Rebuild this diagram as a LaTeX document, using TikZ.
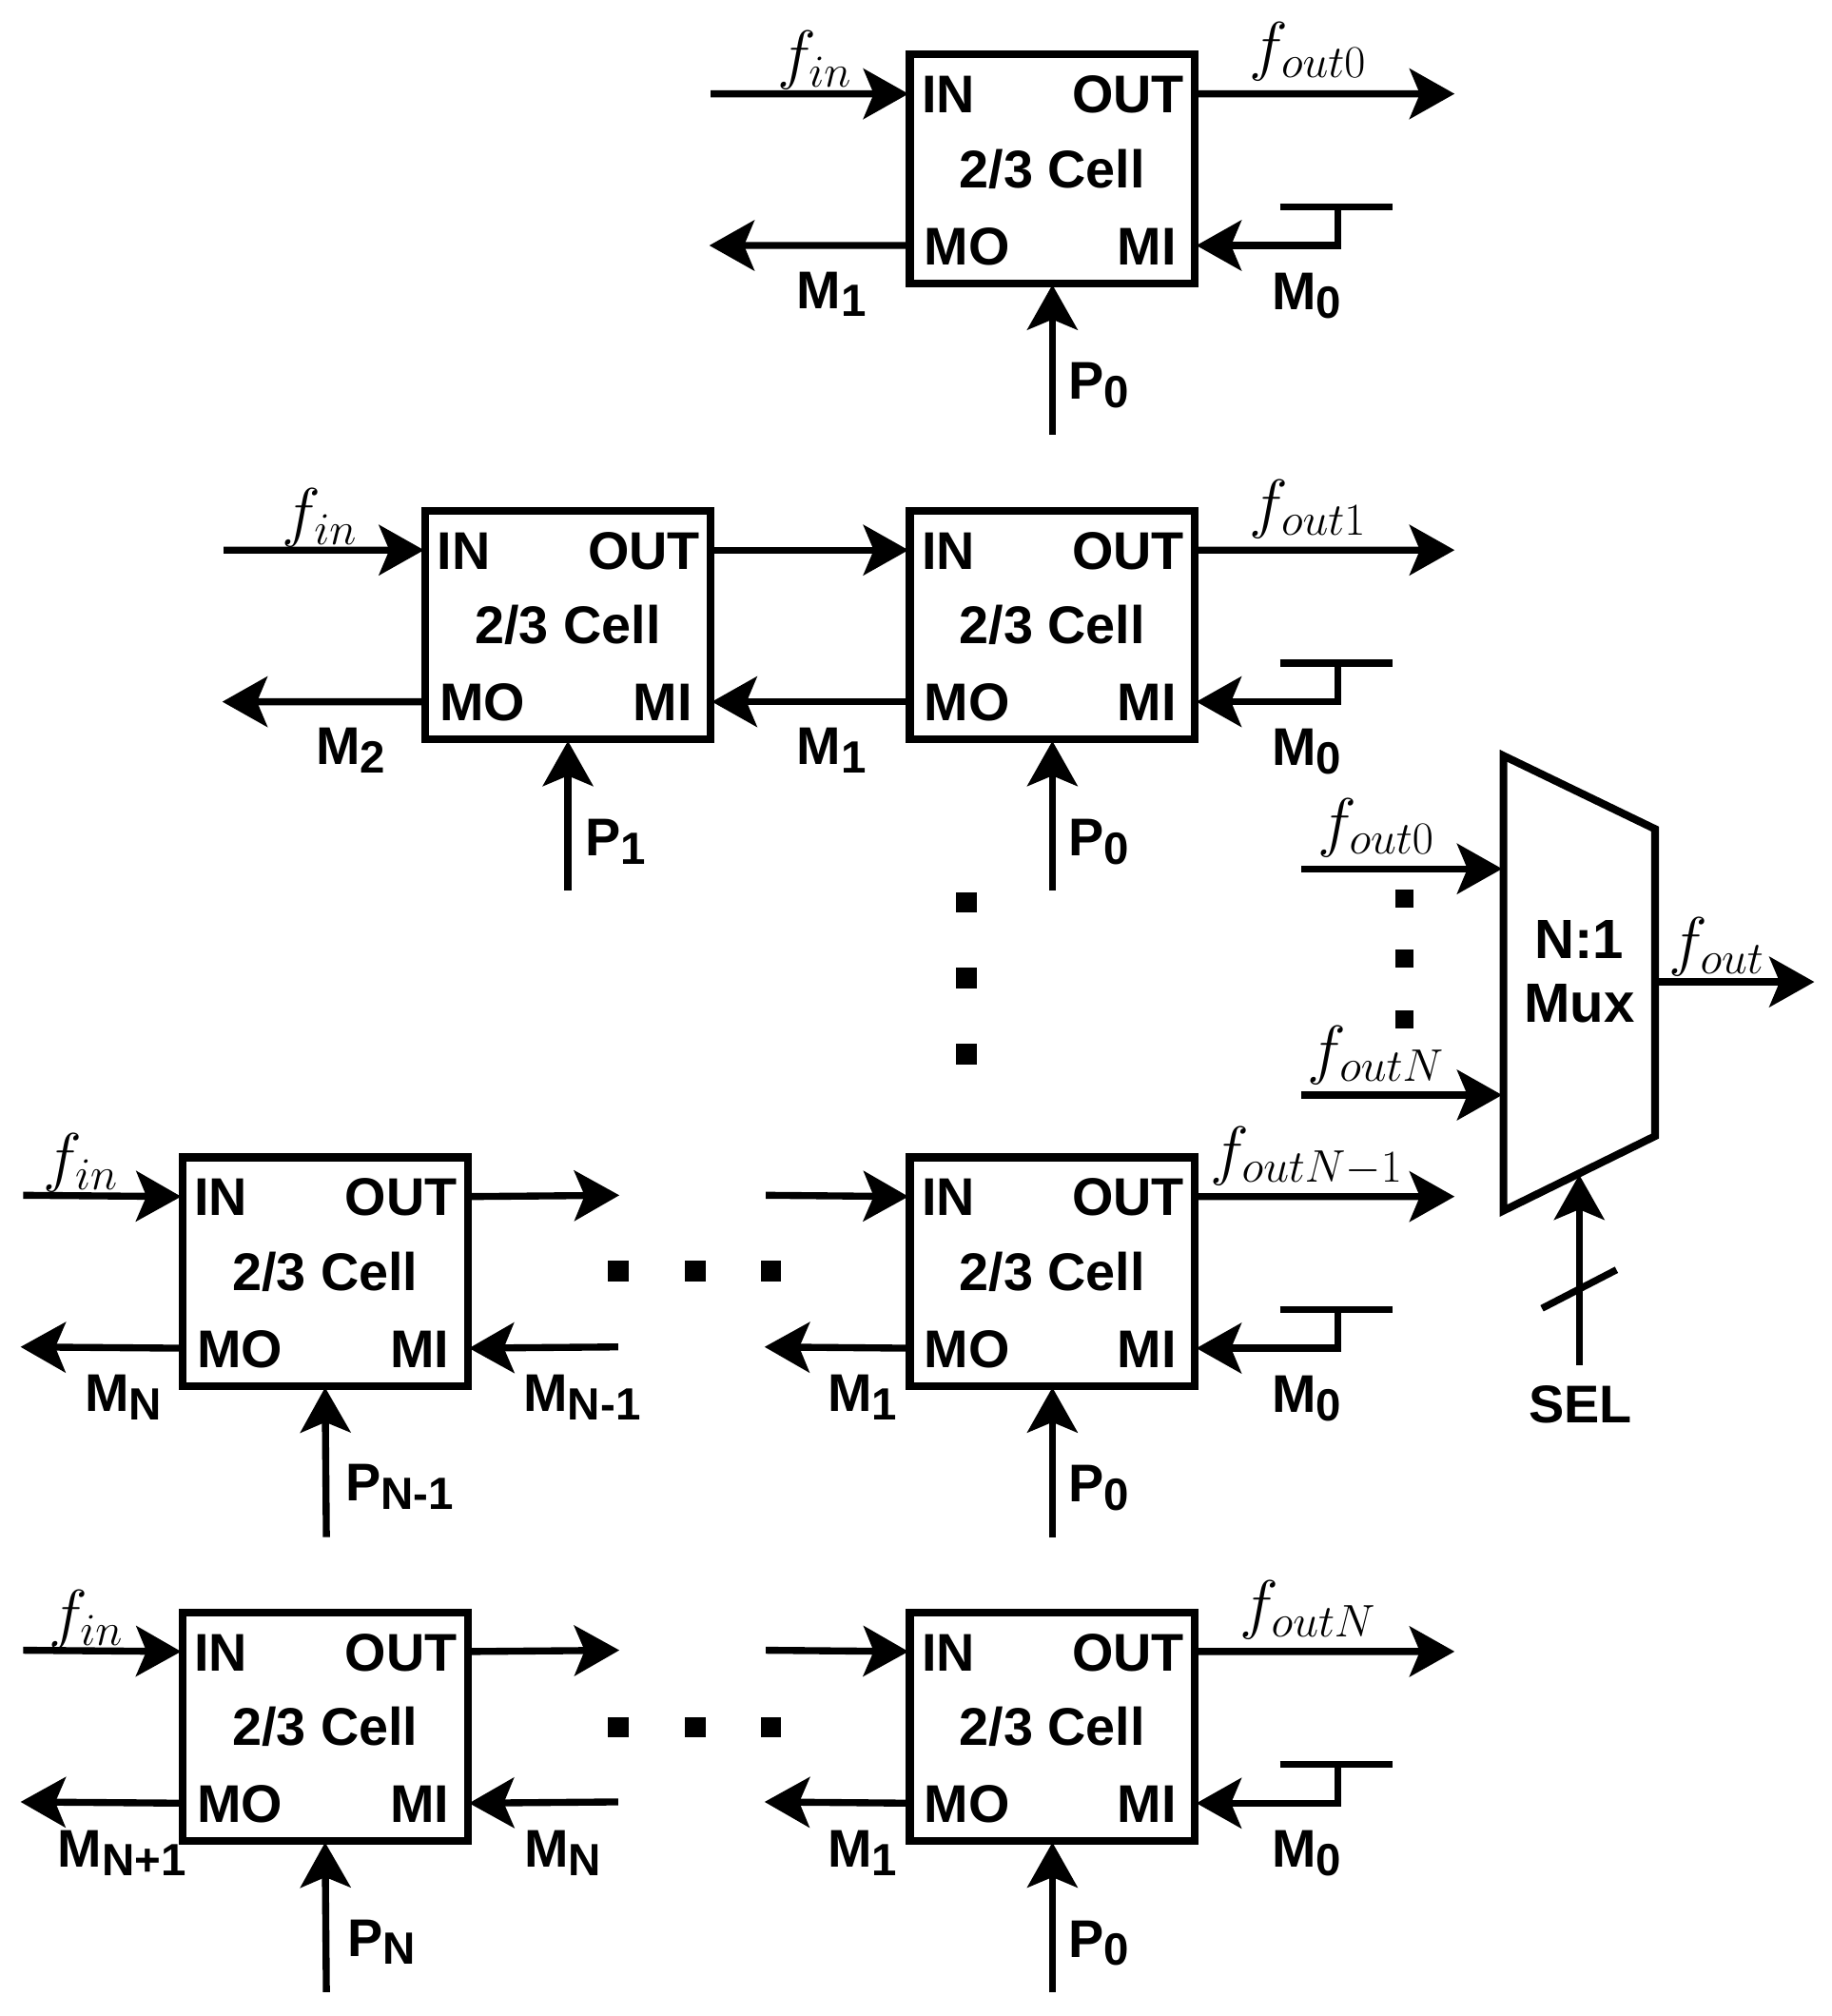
\documentclass[tikz,border=0pt]{standalone}
\usepackage[no-math]{fontspec}
\usepackage{graphicx}
\usepackage{tikz}
\usetikzlibrary{arrows.meta}
\setmainfont{Liberation Sans}
\DeclareMathSizes{24.88}{24.88}{17.28}{12}
\newcommand{\sublabel}[2]{#1\raisebox{-0.13cm}{\fontsize{20}{21}\selectfont #2}}
\newcommand{\fsig}[1]{\scalebox{1.17}{$f_{#1}$}}

\tikzset{
    cellbox/.style={draw, line width=3.4pt, outer sep=0.6pt, minimum width=4.44cm, minimum height=3.56cm, inner sep=0pt, font=\fontsize{23.5}{26}\selectfont\bfseries},
    pintext/.style={inner sep=0pt, font=\fontsize{23.5}{26}\selectfont\bfseries},
    flabel/.style={inner sep=0pt, font=\fontsize{24.88}{28}\selectfont},
    wire/.style={line width=3.1pt},
    sig/.style={wire, -{Stealth[length=0.7cm,width=0.78cm,inset=0.16cm]}},
    dotbox/.style={fill=black, inner sep=0pt, minimum size=0.32cm},
}

\begin{document}
\begin{tikzpicture}[x=0.02cm,y=-0.02cm]
    \useasboundingbox (-1,0) rectangle (1424,1568.6);

    % cells
    \foreach \n/\x/\y in {c0/818/131, c1l/441/486, c1r/818/486, c2l/252/989, c2r/818/989, c3l/252/1343, c3r/818/1343} {
        \node[cellbox] (\n) at (\x,\y+0.5) {2/3 Cell};
        \node[pintext, anchor=base west] (\n-in) at (\x-102,\y-43) {IN};
        \node[pintext, anchor=base east] (\n-out) at (\x+103,\y-43) {OUT};
        \node[pintext, anchor=base west] (\n-mo) at (\x-100,\y+75) {MO};
        \node[pintext, anchor=base east] (\n-mi) at (\x+97,\y+75) {MI};
        \coordinate (\n-ip) at ([yshift=1.17cm]\n.west);
        \coordinate (\n-op) at ([yshift=1.17cm]\n.east);
        \coordinate (\n-mp) at ([yshift=-1.19cm]\n.west);
        \coordinate (\n-np) at ([yshift=-1.19cm]\n.east);
    }

    % right column, same in every row
    \foreach \n/\y in {c0/131, c1r/486, c2r/989, c3r/1343} {
        \coordinate (\n-oe) at (1131,\y-58);
        \coordinate (\n-tl) at (995,\y+30);
        \coordinate (\n-tm) at (1040,\y+30);
        \coordinate (\n-tr) at (1083,\y+30);
        \coordinate (\n-pe) at (818,\y+207);
        \draw[sig] (\n-op) -- (\n-oe);
        \draw[wire] (\n-tl) -- (\n-tr);
        \draw[sig] (\n-tm) |- (\n-np);
        \draw[sig] (\n-pe) -- (\n.south);
        \node[pintext] (\n-m0) at (1016,\y+99) {\sublabel{M}{0}};
        \node[pintext] (\n-p0) at (854,\y+169) {\sublabel{P}{0}};
    }

    % bottom inputs of the left cells
    \foreach \n/\x/\y in {c1l/441/486, c2l/253/989, c3l/253/1343} {
        \coordinate (\n-pe) at (\x,\y+207);
        \draw[sig] (\n-pe) -- (\n.south);
    }

    % input wires
    \foreach \n/\x/\y in {c0/552/73, c1l/173/428, c2l/17/930, c3l/17/1284} {
        \coordinate (\n-ie) at (\x,\y);
        \draw[sig] (\n-ie) -- (\n-ip);
    }
    \node[flabel] (fin0) at (633,47) {\fsig{in}};
    \node[flabel] (fin1) at (248,403) {\fsig{in}};
    \node[flabel] (fin2) at (62,905) {\fsig{in}};
    \node[flabel] (fin3) at (66,1260) {\fsig{in}};

    \node[flabel] (fo0) at (1017,40) {\fsig{out0}};
    \node[flabel] (fo1) at (1017,396) {\fsig{out1}};
    \node[flabel] (fo2) at (1016,900) {\fsig{outN-1}};
    \node[flabel] (fo3) at (1017,1253) {\fsig{outN}};

    % first and second row
    \coordinate (c0-me) at (551,191);
    \draw[sig] (c0-mp) -- (c0-me);
    \node[pintext] (m1a) at (646,229) {\sublabel{M}{1}};

    \draw[sig] (c1l-op) -- (c1r-ip);
    \draw[sig] (c1r-mp) -- (c1l-np);
    \coordinate (c1l-me) at (172,546);
    \draw[sig] (c1l-mp) -- (c1l-me);
    \node[pintext] (m1b) at (646,584) {\sublabel{M}{1}};
    \node[pintext] (m2) at (272,584) {\sublabel{M}{2}};
    \node[pintext] (p1) at (478,655) {\sublabel{P}{1}};

    % third and fourth row
    \foreach \n/\y in {c2/930, c3/1284} {
        \coordinate (\n l-oe) at (481,\y);
        \coordinate (\n r-ie) at (595,\y);
        \coordinate (\n l-ne) at (480,\y+118);
        \coordinate (\n r-me) at (594,\y+118);
        \coordinate (\n l-me) at (15,\y+118);
        \draw[sig] (\n l-op) -- (\n l-oe);
        \draw[sig] (\n r-ie) -- (\n r-ip);
        \draw[sig] (\n l-ne) -- (\n l-np);
        \draw[sig] (\n r-mp) -- (\n r-me);
        \draw[sig] (\n l-mp) -- (\n l-me);
    }
    \node[pintext] (mn2) at (95,1087) {\sublabel{M}{N}};
    \node[pintext] (mn1) at (452,1087) {\sublabel{M}{N-1}};
    \node[pintext] (m1c) at (670,1087) {\sublabel{M}{1}};
    \node[pintext] (pn1) at (310,1157) {\sublabel{P}{N-1}};
    \node[pintext] (mn3) at (94,1442) {\sublabel{M}{N+1}};
    \node[pintext] (mn4) at (437,1442) {\sublabel{M}{N}};
    \node[pintext] (m1d) at (670,1442) {\sublabel{M}{1}};
    \node[pintext] (pn) at (296,1511) {\sublabel{P}{N}};

    % dots
    \foreach \y [count=\i] in {702,761,820} {
        \node[dotbox] (vd\i) at (751,\y) {};
    }
    \foreach \x [count=\i] in {480,540,599} {
        \node[dotbox] (ha\i) at (\x,989) {};
        \node[dotbox] (hb\i) at (\x,1344) {};
    }
    \foreach \y [count=\i] in {699,746,793} {
        \node[dotbox, minimum size=0.28cm] (md\i) at (1092,\y) {};
    }

    % mux
    \coordinate (mxa) at (1169,588);
    \coordinate (mxb) at (1287,645);
    \coordinate (mxc) at (1287,884);
    \coordinate (mxd) at (1169,942);
    \draw[line width=3.4pt, miter limit=10] (mxa) -- (mxb) -- (mxc) -- (mxd) -- cycle;
    \node[pintext, align=center, font=\fontsize{24.5}{24.5}\selectfont\bfseries] (muxtext) at (1228,756) {N:1\\[0.12cm]Mux};

    \coordinate (mi0s) at (1012,676);
    \coordinate (mi0e) at (1168,676);
    \coordinate (mi1s) at (1012,852);
    \coordinate (mi1e) at (1168,852);
    \coordinate (mos) at (1288,764);
    \coordinate (moe) at (1411,764);
    \coordinate (sels) at (1228,1062);
    \coordinate (sele) at (1228,914);
    \coordinate (sla) at (1199,1018);
    \coordinate (slb) at (1257,988);
    \draw[sig] (mi0s) -- (mi0e);
    \draw[sig] (mi1s) -- (mi1e);
    \draw[sig] (mos) -- (moe);
    \draw[sig] (sels) -- (sele);
    \draw[wire] (sla) -- (slb);
    \node[flabel] (mf0) at (1070,644) {\fsig{out0}};
    \node[flabel] (mf1) at (1070,821) {\fsig{outN}};
    \node[flabel] (mf) at (1335,737) {\fsig{out}};
    \node[pintext] (sel) at (1229,1093) {SEL};
\end{tikzpicture}
\end{document}
